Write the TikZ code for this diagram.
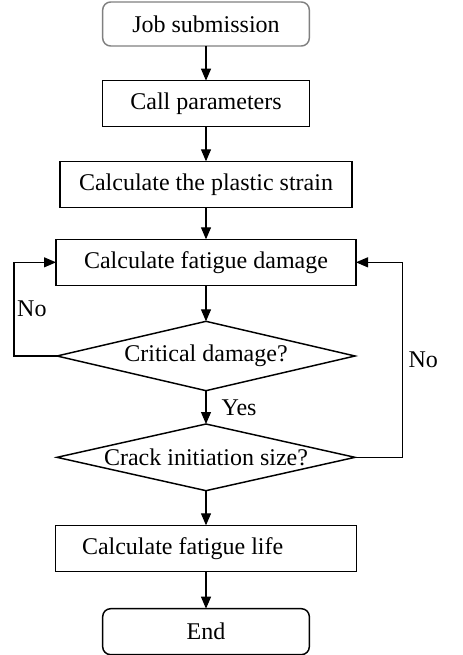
\documentclass[tikz,border=0pt]{standalone}
\usepackage{fontspec}
\setmainfont{Liberation Serif}
\usetikzlibrary{positioning,shapes.geometric,arrows.meta}
\tikzset{
	process/.style ={rectangle, draw, line width=1.1pt, outer sep=0pt, minimum width=155pt, minimum height=34.5pt, inner sep=2pt},
	terminal/.style ={process, rounded corners=6pt},
	decision/.style ={diamond, draw, line width=1.1pt, outer sep=0pt, minimum width=223.5pt, minimum height=52pt, inner sep=0pt}, % text is put in a zero width box
	my edge/.style ={-{Triangle[length=9pt,width=7.5pt]}, line width=0.8pt}
}
\newcommand{\dtext}[1]{\makebox[0pt]{#1}}

\begin{document}
\begin{tikzpicture}[node distance = 26pt, font=\fontsize{18}{21}\selectfont]
	\useasboundingbox (0,0) rectangle (346.5pt,-491.25pt);
	\node[terminal, draw=gray, minimum height=33pt] (job) at (154.5pt,-18pt) {Job submission};
	\node[process] (call) [below=of job] {Call parameters};
	\node[process, minimum width=219pt] (strain) [below=of call] {Calculate the plastic strain};
	\node[process, minimum width=225pt] (damage) [below=24pt of strain] {Calculate fatigue damage};
	\node[decision] (crit) [below=27pt of damage] {\dtext{Critical damage?}};
	\node[decision, minimum height=50pt] (crack) [below=25pt of crit] {\dtext{Crack initiation size?}};
	\node[process, inner xsep=20pt] (life) [below=of crack] {\makebox[186pt][l]{Calculate fatigue life}};
	\node[terminal] (end) [below=28pt of life] {End};
	\coordinate (lft) at (10.5pt,0);
	\coordinate (rgt) at (302pt,0);
	\draw[my edge] (job) -- (call);
	\draw[my edge] (call) -- (strain);
	\draw[my edge] (strain) -- (damage);
	\draw[my edge] (damage) -- (crit);
	\draw[my edge] (crit) -- node[right, xshift=8pt] {Yes} (crack);
	\draw[my edge] (crack) -- (life);
	\draw[my edge] (life) -- (end);
	\draw[my edge] (crit.west) -- (crit.west -| lft) |- node[pos=0.25, right, inner sep=2pt] {No} (damage.west);
	\draw[my edge] (crack.east) -- (crack.east -| rgt) |- node[pos=0.25, right, inner sep=4pt] {No} (damage.east);
\end{tikzpicture}
\end{document}
